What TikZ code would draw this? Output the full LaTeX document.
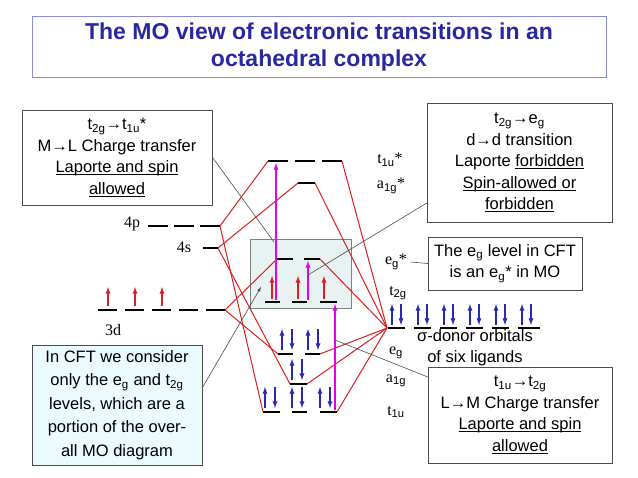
\documentclass[tikz,border=0pt]{standalone}
\usepackage{fontspec}
\setmainfont{Liberation Sans}
\newfontfamily\serifx{Liberation Serif}
\newcommand\uln[1]{\setbox0\hbox{#1}\rlap{\rule[-2.4pt]{\wd0}{0.9pt}}\box0}
\definecolor{ttl}{RGB}{40,40,160}
\definecolor{tbord}{RGB}{140,140,220}
\definecolor{lred}{RGB}{220,30,30}
\definecolor{mag}{RGB}{230,0,230}
\definecolor{eblue}{RGB}{40,40,180}
\definecolor{cyfill}{RGB}{235,250,252}
\definecolor{boxfill}{RGB}{232,242,242}
\begin{document}
\begin{tikzpicture}[x=1pt,y=-1pt,
  txtbox/.style={draw=black!70,fill=white,align=center,font=\fontsize{16.5}{21.5}\selectfont,inner sep=0pt},
  lev/.style={line width=1.4pt},
  cn/.style={draw=lred,line width=1pt},
  eup/.style={-latex,line width=1.3pt},
  lab/.style={font=\serifx\fontsize{16}{18}\selectfont},
  call/.style={draw=black!70,line width=0.6pt}]
\useasboundingbox (0,0) rectangle (638,478);
% title
\node[draw=tbord,line width=1pt,minimum width=574,minimum height=61,inner sep=0pt,text=ttl,font=\bfseries\fontsize{23}{27}\selectfont,align=center] (title) at (319,47.5) {The MO view of electronic transitions in an\\octahedral complex};
% CFT region box
\node[draw=black!50,fill=boxfill,minimum width=101,minimum height=69,inner sep=0pt] (reg) at (300.5,273.5) {};
% level coordinates
\coordinate (p4r) at (220,226); \coordinate (s4r) at (218,248); \coordinate (d3r) at (225,310);
\coordinate (tsl) at (268,161); \coordinate (tsr) at (342,161);
\coordinate (asl) at (298,183); \coordinate (asr) at (315,183);
\coordinate (esl) at (277,259); \coordinate (esr) at (320,259);
\coordinate (ebl) at (278,354); \coordinate (ebr) at (320,354);
\coordinate (abl) at (290,384); \coordinate (abr) at (307,384);
\coordinate (tbl) at (263,412); \coordinate (tbr) at (337,412);
\coordinate (L) at (387,328);
% connectors
\foreach \a/\b in {p4r/tsl,p4r/tbl,s4r/asl,s4r/abl,d3r/esl,d3r/ebl,tsr/L,tbr/L,asr/L,abr/L,esr/L,ebr/L}
  \draw[cn] (\a) -- (\b);
% levels
\foreach \x in {98,125,152,179,206} \draw[lev] (\x,310) -- ++(19,0);
\foreach \x in {148,174,200} \draw[lev] (\x,226) -- ++(20,0);
\draw[lev] (203,248) -- (218,248);
\foreach \x in {268,295,322} \draw[lev] (\x,161) -- ++(20,0);
\draw[lev] (298,183) -- (315,183);
\foreach \x in {277,304} \draw[lev] (\x,259) -- ++(16,0);
\foreach \a/\b in {265/280,292/307,320/337} \draw[lev] (\a,302) -- (\b,302);
\foreach \x in {278,305} \draw[lev] (\x,354) -- ++(15,0);
\draw[lev] (290,384) -- (307,384);
\foreach \a/\b in {263/280,292/307,320/337} \draw[lev] (\a,412) -- (\b,412);
\foreach \a/\b in {388/405,414/431,440/457,466/483,492/509,518/540} \draw[lev] (\a,328) -- (\b,328);
% electrons
\foreach \x in {108,135,162} \draw[eup,lred] (\x,306) -- (\x,287);
\foreach \x in {272,298,324} \draw[eup,lred] (\x,299) -- (\x,276);
\foreach \x/\y in {282/350,308/350,292/380,265/408,292/408,320/408}
  {\draw[eup,eblue] (\x,\y) -- (\x,\y-21); \draw[eup,eblue] (\x+10,\y-21) -- (\x+10,\y);}
\foreach \x in {392,418,444,470,496,522}
  {\draw[eup,eblue] (\x,325) -- (\x,304); \draw[eup,eblue] (\x+9,304) -- (\x+9,325);}
% transitions
\draw[eup,mag] (276,300) -- (276,163);
\draw[eup,mag] (308,300) -- (308,261);
\draw[eup,mag] (335,410) -- (335,304);
% labels
\node[lab] (l4p) at (132,224) {4p};
\node[lab] (l4s) at (184,247) {4s};
\node[lab] (l3d) at (113,330) {3d};
\node[lab] (ltus) at (390,160) {t$_{\mathrm{1u}}$*};
\node[lab] (lags) at (391,186) {a$_{\mathrm{1g}}$*};
\node[lab] (legs) at (396,262) {e$_{\mathrm{g}}$*};
\node[lab] (lt2g) at (398,293) {t$_{\mathrm{2g}}$};
\node[lab] (leg) at (396,353) {e$_{\mathrm{g}}$};
\node[lab] (lag) at (396,381) {a$_{\mathrm{1g}}$};
\node[lab] (ltu) at (396,412) {t$_{\mathrm{1u}}$};
\node[align=center,font=\fontsize{16.5}{21}\selectfont] (sig) at (475,348) {σ-donor orbitals\\of six ligands};
% text boxes
\node[txtbox,minimum width=190,minimum height=95] (b1) at (117,157.5) {t$_{\mathrm{2g}}$→t$_{\mathrm{1u}}$*\\M→L Charge transfer\\\uln{Laporte and spin}\\\uln{allowed}};
\node[txtbox,minimum width=185,minimum height=119] (b2) at (519.5,162.5) {t$_{\mathrm{2g}}$→e$_{\mathrm{g}}$\\d→d transition\\Laporte \uln{forbidden}\\\uln{Spin-allowed or}\\\uln{forbidden}};
\node[txtbox,minimum width=154,minimum height=53] (b3) at (505,263.5) {The e$_{\mathrm{g}}$ level in CFT\\is an e$_{\mathrm{g}}$* in MO};
\node[txtbox,fill=cyfill,minimum width=170,minimum height=120,font=\fontsize{16.5}{23.5}\selectfont] (b4) at (117,405) {In CFT we consider\\only the e$_{\mathrm{g}}$ and t$_{\mathrm{2g}}$\\levels, which are a\\portion of the over-\\all MO diagram};
\node[txtbox,minimum width=184,minimum height=96] (b5) at (520,415) {t$_{\mathrm{1u}}$→t$_{\mathrm{2g}}$\\L→M Charge transfer\\\uln{Laporte and spin}\\\uln{allowed}};
% callouts
\coordinate (c1) at (274,242); \coordinate (c2) at (308,275); \coordinate (c4) at (261,287); \coordinate (c5) at (335,340);
\draw[call] (b1.east |- 0,157) -- (c1);
\draw[call] (b2.west |- 0,203) -- (c2);
\draw[call] (legs.east) -- (b3.west);
\draw[call,-latex] (b4.east |- 0,388) -- (c4);
\draw[call] (b5.west |- 0,377) -- (c5);
\end{tikzpicture}
\end{document}
